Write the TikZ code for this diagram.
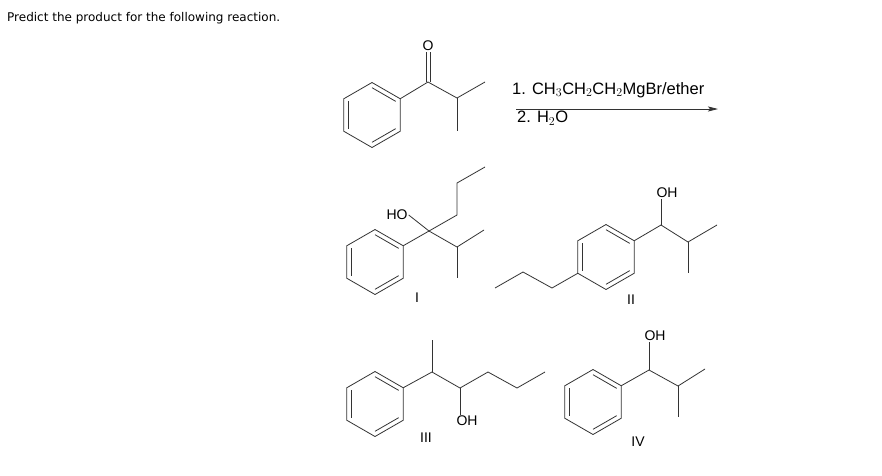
\documentclass[tikz,border=0pt]{standalone}
\usepackage{fontspec}
\setmainfont{Liberation Sans}
\newfontfamily\verd{DejaVu Sans}
\usetikzlibrary{calc,arrows.meta}
\tikzset{bond/.style={line width=0.8pt,black!80},
 lab/.style={font=\fontsize{14}{14}\selectfont,inner sep=1pt},
 num/.style={font=\fontsize{16.5}{16.5}\selectfont,inner sep=0pt}}
\newcommand\benz[3]{%
 \coordinate (#1c) at (#2,#3);
 \coordinate (#1a) at (#2,#3-32.5);
 \coordinate (#1b) at (#2-28.2,#3-16.25);
 \coordinate (#1d) at (#2-28.2,#3+16.25);
 \coordinate (#1e) at (#2,#3+32.5);
 \coordinate (#1f) at (#2+28.2,#3+16.25);
 \coordinate (#1g) at (#2+28.2,#3-16.25);
 \draw[bond] (#1a)--(#1b)--(#1d)--(#1e)--(#1f)--(#1g)--cycle;
 \draw[bond] ($(#1c)!0.84!(#1b)$)--($(#1c)!0.84!(#1d)$);
 \draw[bond] ($(#1c)!0.84!(#1a)$)--($(#1c)!0.84!(#1g)$);
 \draw[bond] ($(#1c)!0.84!(#1e)$)--($(#1c)!0.84!(#1f)$);}
\begin{document}
\begin{tikzpicture}[x=1pt,y=-1pt]
\useasboundingbox[fill=white] (0,0) rectangle (882,475);
\node[anchor=west,inner sep=0pt,font=\verd\fontsize{12}{12}\selectfont] (title) at (7,18) {Predict the product for the following reaction.};
% reactant
\benz{r}{372}{115}
\coordinate (rc1) at (428,82); \coordinate (rc2) at (457,98);
\coordinate (rm1) at (485,82); \coordinate (rm2) at (457,131);
\node[lab] (ro) at (428,46) {O};
\draw[bond] (rg)--(rc1)--(rc2)--(rm1); \draw[bond] (rc2)--(rm2);
\draw[bond] ($(rc1)+(-2,0)$)--($(ro.south)+(-2,0)$);
\draw[bond] ($(rc1)+(2,0)$)--($(ro.south)+(2,0)$);
\coordinate (as) at (516,109); \coordinate (ae) at (718,109);
\draw[bond,-{Stealth[length=10pt,width=5pt,inset=2pt]}] (as)--(ae);
\node[num,anchor=south west] (r1) at (512,98) {1. CH$_3$CH$_2$CH$_2$MgBr/ether};
\node[num,anchor=north west] (r2) at (517,111) {2. H$_2$O};
% I
\benz{a}{375}{262}
\coordinate (ac) at (429,231);
\node[lab] (aho) at (397,215) {HO};
\coordinate (ap1) at (457,215); \coordinate (ap2) at (457,183); \coordinate (ap3) at (485,167);
\coordinate (ai) at (457,247); \coordinate (ai1) at (484,230); \coordinate (ai2) at (457,278);
\draw[bond] (ag)--(ac)--(ap1)--(ap2)--(ap3);
\draw[bond] (ac)--(ai)--(ai1); \draw[bond] (ai)--(ai2);
\draw[bond] (ac)--(aho.east);
\node[lab] (l1) at (417,298) {I};
% II
\benz{b}{606}{257}
\coordinate (bp1) at (552,288); \coordinate (bp2) at (523,272); \coordinate (bp3) at (495,288);
\draw[bond] (bd)--(bp1)--(bp2)--(bp3);
\coordinate (bc) at (661,225);
\node[lab] (boh) at (667,193) {OH};
\coordinate (bi) at (688,242); \coordinate (bi1) at (717,225); \coordinate (bi2) at (688,273);
\draw[bond] (bg)--(bc)--(bi)--(bi1); \draw[bond] (bi)--(bi2);
\draw[bond] (bc)--($(boh.south)+(-6,0)$);
\node[lab] (l2) at (631,300) {II};
% III
\benz{c}{375}{404}
\coordinate (cc1) at (432,372); \coordinate (cm) at (432,340);
\coordinate (cc2) at (460,388); \coordinate (cp1) at (488,372);
\coordinate (cp2) at (517,388); \coordinate (cp3) at (545,372);
\node[lab] (coh) at (467,421) {OH};
\draw[bond] (cg)--(cc1)--(cc2)--(cp1)--(cp2)--(cp3); \draw[bond] (cc1)--(cm);
\draw[bond] (cc2)--($(coh.north)+(-7,0)$);
\node[lab] (l3) at (426,438) {III};
% IV
\benz{d}{593}{402}
\coordinate (dc) at (649,370);
\node[lab] (doh) at (655,336) {OH};
\coordinate (di) at (678,386); \coordinate (di1) at (705,369); \coordinate (di2) at (678,417);
\draw[bond] (dg)--(dc)--(di)--(di1); \draw[bond] (di)--(di2);
\draw[bond] (dc)--($(doh.south)+(-6,0)$);
\node[lab] (l4) at (638,442) {IV};
\end{tikzpicture}
\end{document}
